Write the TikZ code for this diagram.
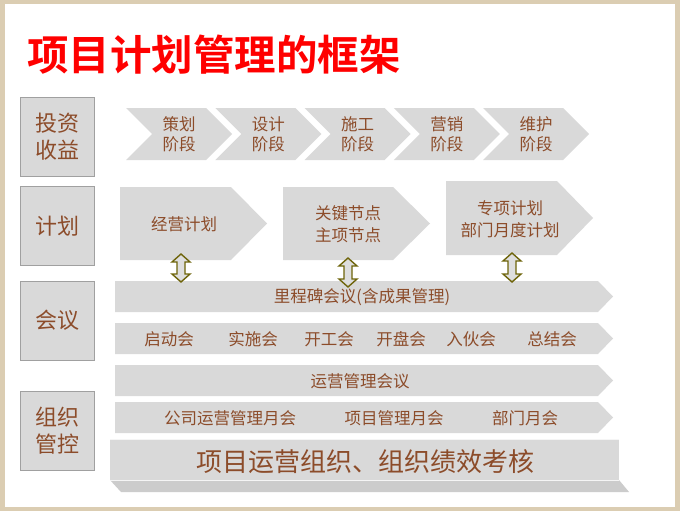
\documentclass[tikz,border=0pt]{standalone}
\usepackage{fontspec}
\newfontfamily\cjk[BoldFont={Noto Sans CJK SC Bold}]{Noto Sans CJK SC}
\definecolor{beige}{RGB}{219,205,178}
\definecolor{boxgray}{RGB}{217,217,217}
\definecolor{boxline}{RGB}{160,160,160}
\definecolor{darkface}{RGB}{204,204,204}
\definecolor{txt}{RGB}{140,76,42}
\definecolor{olive}{RGB}{110,100,10}
\definecolor{arrfill}{RGB}{222,222,222}
\newcommand\chevshape[5]{% x y w h d : notched chevron
  \fill[boxgray] (#1,#2) -- ({#1+#3-#5},#2) -- ({#1+#3},{#2+#4/2}) -- ({#1+#3-#5},{#2+#4}) -- (#1,{#2+#4}) -- ({#1+#5},{#2+#4/2}) -- cycle;}
\newcommand\pentshape[5]{% x y corner tip bottom : pentagon arrow
  \fill[boxgray] (#1,#2) -- (#3,#2) -- (#4,{(#2+#5)/2}) -- (#3,#5) -- (#1,#5) -- cycle;}
\newcommand\dblarrow[3]{% cx top bottom
  \draw[arrowst] (#1,#2) -- ({#1+9},{#2+8}) -- ({#1+4},{#2+8}) -- ({#1+4},{#3-8}) -- ({#1+9},{#3-8}) -- (#1,#3) -- ({#1-9},{#3-8}) -- ({#1-4},{#3-8}) -- ({#1-4},{#2+8}) -- ({#1-9},{#2+8}) -- cycle;}
\tikzset{
  lbox/.style={draw=boxline, line width=1pt, fill=boxgray, minimum width=74pt, minimum height=79pt,
    inner sep=0pt, align=center, text=txt, font=\cjk\fontsize{22}{27}\selectfont},
  lab/.style={inner sep=0pt, align=center, text=txt, font=\cjk\fontsize{16.5}{20}\selectfont},
  labb/.style={inner sep=0pt, align=center, text=txt, font=\cjk\fontsize{16.5}{22}\selectfont},
  arrowst/.style={draw=olive, fill=arrfill, line width=1.4pt, line join=miter}
}
\begin{document}
\begin{tikzpicture}[x=1pt,y=-1pt]
\useasboundingbox (0,0) rectangle (680,511);
\fill[beige] (0,0) rectangle (680,511);
\fill[white] (5,4) rectangle (675,507);
% title
\node[anchor=west, inner sep=0pt, text=red, font=\cjk\bfseries\fontsize{41.5}{44}\selectfont] (title) at (27,55) {项目计划管理的框架};
% left boxes
\node[lbox] (k1) at (57,136.5) {投资\\收益};
\node[lbox] (k2) at (57,226) {计划};
\node[lbox] (k3) at (57,320.5) {会议};
\node[lbox] (k4) at (57,431) {组织\\管控};
% row 1 chevrons
\foreach \i/\t in {0/{策划\\阶段},1/{设计\\阶段},2/{施工\\阶段},3/{营销\\阶段},4/{维护\\阶段}}{
  \pgfmathsetmacro\xx{126+89.25*\i}
  \chevshape{\xx}{108}{106}{52}{26}
  \node[lab] (c\i) at ({\xx+53},134) {\t};
}
% row 2 pentagons
\pentshape{120}{187}{231}{267}{260}
\pentshape{283}{187}{393}{430}{260}
\pentshape{446}{181}{557}{593}{255}
\node[lab] (p1) at (184,224) {经营计划};
\node[labb] (p2) at (348,224) {关键节点\\主项节点};
\node[labb] (p3) at (510,219) {专项计划\\部门月度计划};
% bars
\pentshape{115}{281}{598}{613}{312}
\pentshape{115}{323}{598}{613}{354}
\pentshape{115}{365}{598}{613}{396}
\pentshape{115}{402}{598}{613}{433}
\node[lab] (b1) at (362,297) {里程碑会议(含成果管理)};
\node[lab] (m1) at (169,339) {启动会};
\node[lab] (m2) at (253,339) {实施会};
\node[lab] (m3) at (329,339) {开工会};
\node[lab] (m4) at (401,339) {开盘会};
\node[lab] (m5) at (471,339) {入伙会};
\node[lab] (m6) at (552,339) {总结会};
\node[lab] (b3) at (360,381) {运营管理会议};
\node[lab] (o1) at (230,418) {公司运营管理月会};
\node[lab] (o2) at (394,418) {项目管理月会};
\node[lab] (o3) at (525,418) {部门月会};
% bottom 3d box
\fill[darkface] (110,480) -- (619,480) -- (629,492) -- (121,492) -- cycle;
\fill[boxgray] (110,439) rectangle (619,480);
\draw[white!92!gray, line width=1pt] (110,480) -- (619,480);
\draw[white!92!gray, line width=0.8pt] (110,439.4) -- (619,439.4);
\node[inner sep=0pt, text=txt, font=\cjk\fontsize{26}{30}\selectfont] (bottom) at (365,462) {项目运营组织、组织绩效考核};
% double arrows
\dblarrow{181}{254}{282}
\dblarrow{348}{258}{287}
\dblarrow{512}{253}{282}
\end{tikzpicture}
\end{document}
